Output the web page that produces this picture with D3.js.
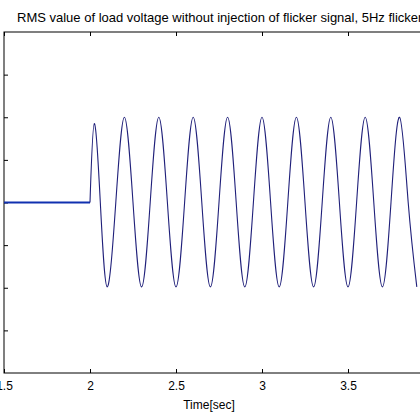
<!DOCTYPE html>
<html><head><meta charset="utf-8">
<script src="https://cdn.jsdelivr.net/npm/d3@7"></script>
<style>body{margin:0;background:#fff;overflow:hidden}svg{display:block}text{font-family:"Liberation Sans",Arial,sans-serif}</style>
</head><body>
<script>
'use strict';
// values (arbitrary units, flat level = 0)
var flatTime = [1.5, 2.0];
var flatValue = [0, 0];
var waveTime = [2.0, 2.025, 2.06, 2.1, 2.15, 2.2, 2.25, 2.3, 2.35, 2.4, 2.45, 2.5, 2.55, 2.6, 2.65, 2.7, 2.75, 2.8, 2.85, 2.9, 2.95, 3.0, 3.05, 3.1, 3.15, 3.2, 3.25, 3.3, 3.35, 3.4, 3.45, 3.5, 3.55, 3.6, 3.65, 3.7, 3.75, 3.8, 3.85, 3.9];
var waveValue = [0, 1.85, 0, -1.98, 0, 2, 0, -1.98, 0, 2, 0, -1.98, 0, 2, 0, -1.98, 0, 2, 0, -1.98, 0, 2, 0, -1.98, 0, 2, 0, -1.98, 0, 2, 0, -1.98, 0, 2, 0, -1.98, 0, 2, 0, -1.98];
var xTicks = [1.5, 2, 2.5, 3, 3.5];
var yTicks = [-3, -2, -1, 0, 1, 2, 3];

var W = 420, H = 420;
var svg = d3.select('body').append('svg').attr('width', W).attr('height', H);
var x = d3.scaleLinear().domain([1.5, 4]).range([4, 434]);
var y = d3.scaleLinear().domain([-4, 4]).range([373, 32]);

svg.append('rect').attr('x', 4).attr('y', 32).attr('width', 430).attr('height', 341)
	.attr('fill', 'none').attr('stroke', '#000').attr('stroke-width', 1);

var fmt = function(d){ return String(d); };
svg.append('g').attr('transform', 'translate(0,373)')
	.call(d3.axisBottom(x).tickValues(xTicks).tickFormat(fmt).tickSizeInner(-4).tickSizeOuter(0).tickPadding(8));
svg.append('g').attr('transform', 'translate(0,32)')
	.call(d3.axisTop(x).tickValues(xTicks).tickFormat('').tickSizeInner(-4).tickSizeOuter(0));
svg.append('g').attr('transform', 'translate(4,0)')
	.call(d3.axisLeft(y).tickValues(yTicks).tickFormat('').tickSizeInner(-4).tickSizeOuter(0));
svg.selectAll('.domain').remove();
svg.selectAll('.tick text').attr('font-size', 12).attr('fill', '#000');

var flat = flatTime.map(function(t, i){ return [t, flatValue[i]]; });
var wave = waveTime.map(function(t, i){ return [t, waveValue[i]]; });

svg.append('path').datum(flat)
	.attr('d', d3.line().x(function(d){ return x(d[0]); }).y(function(d){ return y(d[1]); }))
	.attr('fill', 'none').attr('stroke', '#1030b0').attr('stroke-width', 2);
svg.append('path').datum(wave)
	.attr('d', d3.line().curve(d3.curveNatural).x(function(d){ return x(d[0]); }).y(function(d){ return y(d[1]); }))
	.attr('fill', 'none').attr('stroke', '#20207a').attr('stroke-width', 1.1);

svg.append('text').attr('x', 17).attr('y', 22).attr('font-size', 13)
	.text('RMS value of load voltage without injection of flicker signal, 5Hz flicker');
svg.append('text').attr('x', 209).attr('y', 409).attr('text-anchor', 'middle').attr('font-size', 12)
	.text('Time[sec]');
</script>
</body></html>
